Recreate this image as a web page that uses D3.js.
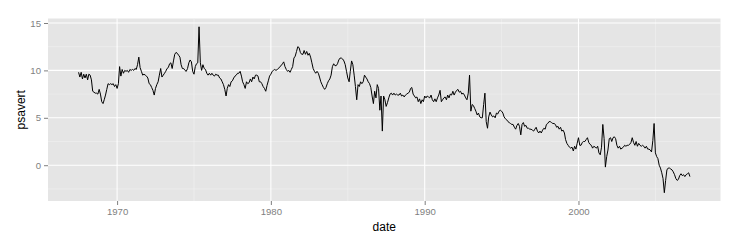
<!DOCTYPE html>
<html>
<head>
<meta charset="utf-8">
<script src="https://cdn.jsdelivr.net/npm/d3@7"></script>
<style>
  html, body { margin: 0; padding: 0; background: #ffffff; }
  svg { display: block; }
</style>
</head>
<body>
<svg id="chart" width="740" height="246"></svg>
<script>
// ---- data (monthly personal savings rate, starting July 1967) ----
const startMonth = "1967-07-01";
const psavert = [
  9.8, 9.3, 9.8, 9.1, 9.6, 9.2, 9.6, 9.0, 9.6, 9.5,
  9.0, 7.8, 7.7, 7.6, 7.6, 7.5, 8.0, 7.5, 6.7, 6.5,
  6.9, 7.4, 8.0, 8.6, 8.5, 8.6, 8.5, 8.6, 8.3, 8.5,
  8.1, 8.6, 10.4, 9.4, 10.1, 9.7, 10.0, 9.9, 10.0, 9.8,
  10.1, 10.0, 10.1, 10.0, 10.2, 10.1, 10.6, 11.4, 10.3, 9.9,
  9.5, 9.6, 9.5, 9.4, 9.2, 8.6, 8.5, 8.2, 7.9, 7.4,
  8.1, 8.5, 8.8, 9.5, 10.2, 9.3, 9.5, 9.7, 9.9, 10.2,
  10.3, 10.7, 10.8, 10.2, 11.0, 11.7, 11.9, 11.8, 11.6, 11.4,
  10.6, 10.2, 10.2, 10.0, 9.9, 10.2, 10.8, 11.1, 10.9, 9.9,
  9.6, 10.4, 10.7, 10.8, 14.6, 10.8, 10.0, 10.6, 10.2, 10.1,
  9.7, 9.5, 9.7, 9.5, 9.7, 9.5, 9.4, 9.6, 9.5, 9.5,
  9.2, 9.1, 8.8, 8.5, 8.0, 7.3, 8.1, 8.5, 8.3, 8.8,
  8.9, 9.2, 9.4, 9.5, 9.7, 9.7, 9.9, 9.4, 8.8, 8.5,
  8.1, 8.8, 8.6, 8.7, 9.1, 8.8, 9.3, 9.1, 9.5, 9.5,
  9.4, 8.8, 8.8, 8.6, 8.3, 8.1, 7.8, 8.4, 8.9, 9.4,
  9.6, 9.9, 10.0, 10.1, 10.0, 10.1, 10.2, 10.4, 10.5, 10.7,
  10.9, 10.4, 10.1, 9.9, 10.0, 9.8, 10.1, 10.4, 11.3, 11.5,
  12.0, 12.5, 12.4, 11.9, 11.7, 11.7, 12.1, 11.7, 12.0, 11.6,
  11.8, 11.4, 10.8, 10.2, 9.9, 9.7, 9.9, 9.7, 9.3, 8.8,
  8.5, 8.2, 8.0, 8.2, 8.6, 8.9, 9.1, 9.5, 10.4, 10.7,
  10.5, 10.5, 10.7, 11.1, 11.3, 11.3, 11.2, 11.0, 10.6, 9.9,
  9.2, 8.8, 9.9, 11.0, 10.6, 9.5, 8.3, 6.9, 8.5, 8.3,
  8.8, 8.6, 8.8, 9.5, 9.3, 9.1, 8.8, 8.6, 8.2, 7.3,
  6.5, 7.8, 7.1, 8.5, 8.1, 5.8, 7.3, 3.6, 7.3, 6.9,
  6.2, 6.6, 7.1, 7.5, 7.6, 7.4, 7.6, 7.4, 7.5, 7.4,
  7.4, 7.6, 7.3, 7.4, 7.2, 7.4, 7.5, 7.6, 7.7, 8.1,
  8.2, 7.5, 7.3, 7.1, 7.2, 6.7, 7.0, 6.5, 6.9, 6.7,
  7.3, 7.1, 7.3, 7.2, 7.1, 7.4, 6.9, 6.7, 7.0, 6.7,
  7.1, 7.4, 7.9, 6.7, 6.9, 7.1, 7.2, 6.9, 7.4, 7.1,
  7.5, 7.4, 7.8, 7.4, 7.7, 7.9, 8.0, 7.7, 7.8, 7.5,
  7.6, 7.4, 7.1, 6.9, 7.6, 9.5, 5.7, 6.4, 6.3, 6.0,
  5.7, 5.3, 5.5, 5.1, 5.0, 5.0, 6.4, 7.6, 4.6, 3.9,
  5.1, 5.6, 5.3, 5.1, 5.2, 5.0, 5.5, 5.4, 5.7, 5.8,
  5.7, 5.5, 5.1, 4.9, 4.8, 4.6, 4.5, 4.4, 4.3, 4.3,
  4.0, 3.8, 4.2, 4.4, 4.1, 3.2, 4.3, 4.5, 4.1, 4.2,
  3.9, 3.9, 3.8, 3.8, 3.7, 3.6, 3.8, 4.0, 3.6, 3.4,
  3.6, 3.4, 3.7, 3.9, 3.8, 4.3, 4.4, 4.6, 4.6, 4.5,
  4.4, 4.4, 4.3, 4.0, 4.1, 3.8, 4.0, 3.6, 3.7, 3.4,
  2.7, 2.3, 2.1, 1.9, 1.8, 1.9, 1.5, 2.0, 1.7, 2.3,
  2.9, 2.1, 2.1, 2.4, 2.5, 2.5, 2.7, 2.9, 2.4, 2.2,
  2.1, 1.8, 2.0, 1.9, 1.8, 2.0, 1.3, 1.1, 1.9, 4.3,
  2.8, -0.2, 0.9, 1.6, 2.8, 2.9, 2.5, 2.9, 3.0, 2.8,
  2.1, 1.8, 2.0, 1.7, 1.8, 1.9, 2.1, 2.0, 2.1, 2.1,
  2.2, 2.4, 2.9, 2.4, 2.1, 2.5, 2.0, 2.3, 2.1, 2.0,
  2.1, 2.0, 1.8, 2.0, 1.7, 1.7, 1.6, 1.4, 2.6, 4.4,
  1.3, 0.9, 0.7, 0.0, -0.3, -0.8, -1.4, -2.9, -1.6, -0.5,
  -0.3, -0.3, -0.4, -0.5, -0.7, -1.0, -1.4, -1.6, -1.5, -1.1,
  -0.9, -1.1, -1.0, -1.2, -1.0, -0.9, -0.8, -1.2
];
const yTicks = [0, 5, 10, 15];
const yMinor = [-2.5, 2.5, 7.5, 12.5];
const xTickYears = [1970, 1980, 1990, 2000];
const xMinorYears = [1975, 1985, 1995, 2005];
const xTitle = "date";
const yTitle = "psavert";

// ---- build table ----
const start = d3.isoParse(startMonth + "T00:00:00Z");
const data = psavert.map((v, i) => ({ date: d3.utcMonth.offset(start, i), value: v }));

// ---- layout ----
const panel = { left: 48, right: 720.5, top: 18.5, bottom: 201 };
const svg = d3.select("#chart");
const font = "'Liberation Sans', Arial, Helvetica, sans-serif";

// ---- scales (ggplot-style 5% expansion) ----
const [d0, d1] = d3.extent(data, d => d.date);
const span = d1 - d0;
const x = d3.scaleUtc()
  .domain([new Date(+d0 - 0.05 * span), new Date(+d1 + 0.05 * span)])
  .range([panel.left, panel.right]);
const [v0, v1] = d3.extent(data, d => d.value);
const vs = v1 - v0;
const y = d3.scaleLinear()
  .domain([v0 - 0.05 * vs, v1 + 0.05 * vs])
  .range([panel.bottom, panel.top]);

const yearDate = yr => new Date(Date.UTC(yr, 0, 1));

// ---- panel background ----
svg.append("rect")
  .attr("x", panel.left).attr("y", panel.top)
  .attr("width", panel.right - panel.left)
  .attr("height", panel.bottom - panel.top)
  .attr("fill", "#E5E5E5");

const grid = svg.append("g");
// minor grid
grid.selectAll("line.ymin").data(yMinor).join("line")
  .attr("x1", panel.left).attr("x2", panel.right)
  .attr("y1", d => y(d)).attr("y2", d => y(d))
  .attr("stroke", "#F2F2F2").attr("stroke-width", 0.55);
grid.selectAll("line.xmin").data(xMinorYears).join("line")
  .attr("y1", panel.top).attr("y2", panel.bottom)
  .attr("x1", d => x(yearDate(d))).attr("x2", d => x(yearDate(d)))
  .attr("stroke", "#F2F2F2").attr("stroke-width", 0.55);
// major grid
grid.selectAll("line.ymaj").data(yTicks).join("line")
  .attr("x1", panel.left).attr("x2", panel.right)
  .attr("y1", d => y(d)).attr("y2", d => y(d))
  .attr("stroke", "#FFFFFF").attr("stroke-width", 1.07);
grid.selectAll("line.xmaj").data(xTickYears).join("line")
  .attr("y1", panel.top).attr("y2", panel.bottom)
  .attr("x1", d => x(yearDate(d))).attr("x2", d => x(yearDate(d)))
  .attr("stroke", "#FFFFFF").attr("stroke-width", 1.07);

// ---- line ----
const line = d3.line().x(d => x(d.date)).y(d => y(d.value));
svg.append("path")
  .datum(data)
  .attr("d", line)
  .attr("fill", "none")
  .attr("stroke", "#000000")
  .attr("stroke-width", 1.0)
  .attr("stroke-linejoin", "round");

// ---- axes ----
const xAxis = d3.axisBottom(x)
  .tickValues(xTickYears.map(yearDate))
  .tickFormat(d3.utcFormat("%Y"))
  .tickSizeInner(4).tickSizeOuter(0).tickPadding(3);
const gx = svg.append("g").attr("transform", `translate(0,${panel.bottom})`).call(xAxis);
gx.select(".domain").remove();
gx.selectAll(".tick line").attr("stroke", "#7F7F7F").attr("stroke-width", 1);
gx.selectAll(".tick text")
  .attr("fill", "#7F7F7F")
  .style("font-family", font).style("font-size", "9.6px");

const yAxis = d3.axisLeft(y)
  .tickValues(yTicks)
  .tickFormat(d3.format("d"))
  .tickSizeInner(4).tickSizeOuter(0).tickPadding(3);
const gy = svg.append("g").attr("transform", `translate(${panel.left},0)`).call(yAxis);
gy.select(".domain").remove();
gy.selectAll(".tick line").attr("stroke", "#7F7F7F").attr("stroke-width", 1);
gy.selectAll(".tick text")
  .attr("fill", "#7F7F7F")
  .style("font-family", font).style("font-size", "9.6px");

// ---- titles ----
svg.append("text")
  .attr("x", (panel.left + panel.right) / 2)
  .attr("y", 231)
  .attr("text-anchor", "middle")
  .style("font-family", font).style("font-size", "12px")
  .attr("fill", "#000")
  .text(xTitle);

svg.append("text")
  .attr("transform", `translate(25,${(panel.top + panel.bottom) / 2}) rotate(-90)`)
  .attr("text-anchor", "middle")
  .style("font-family", font).style("font-size", "12px")
  .attr("fill", "#000")
  .text(yTitle);
</script>
</body>
</html>
